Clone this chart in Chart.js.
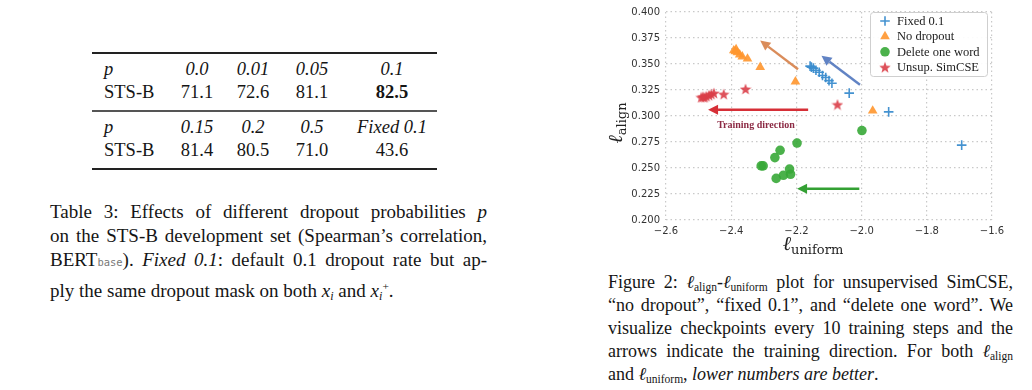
<!DOCTYPE html>
<html>
<head>
<meta charset="utf-8">
<script src="https://cdn.jsdelivr.net/npm/chart.js@4"></script>
<style>
  body { margin: 0; background: #fff; width: 1032px; height: 390px; position: relative; overflow: hidden;
         font-family: "Liberation Serif", serif; color: #151515; }
  .rule { position: absolute; left: 92px; width: 345px; background: #222; }
  .row { position: absolute; left: 92px; width: 345px; height: 23px; line-height: 23px; font-size: 18.5px; }
  .row span { position: absolute; top: 0; text-align: center; }
  .cap { position: absolute; }
  .cap div { white-space: nowrap; text-align: justify; text-align-last: justify; }
  .cap div.last { text-align-last: left; }
  #tcap { left: 50px; top: 200px; width: 437px; font-size: 19px; line-height: 24px; }
  #fcap { left: 608px; top: 271px; width: 405px; font-size: 18px; line-height: 23px; }
  .cap sub { font-size: 64%; vertical-align: -3px; line-height: 0; }
  .cap .tt { font-family: "DejaVu Sans Mono", monospace; font-size: 55%; color: #777; }
  .ell { display: inline-block; }
  #chartBox { position: absolute; left: 600px; top: 0; width: 410px; height: 262px; }
</style>
</head>
<body>

<div class="rule" style="top:52px;height:2px"></div>
<div class="rule" style="top:110px;height:1.5px;background:#555"></div>
<div class="rule" style="top:168px;height:2px"></div>
<div id="tbl"></div>

<div class="cap" id="tcap">
  <div>Table 3: Effects of different dropout probabilities <i>p</i></div>
  <div>on the STS-B development set (Spearman’s correlation,</div>
  <div><span class="ell">BERT<span class="tt">base</span>).</span> <i>Fixed 0.1</i>: default 0.1 dropout rate but ap-</div>
  <div class="last">ply the same dropout mask on both <span class="ell"><i>x<sub>i</sub></i></span> and <span class="ell"><i>x<sub>i</sub></i><sup style="font-size:60%">+</sup>.</span></div>
</div>

<div class="cap" id="fcap">
  <div>Figure 2: <span class="ell"><i>ℓ</i><sub>align</sub>-<i>ℓ</i><sub>uniform</sub></span> plot for unsupervised SimCSE,</div>
  <div>“no dropout”, “fixed 0.1”, and “delete one word”. We</div>
  <div>visualize checkpoints every 10 training steps and the</div>
  <div>arrows indicate the training direction. For both <span class="ell"><i>ℓ</i><sub>align</sub></span></div>
  <div class="last">and <span class="ell"><i>ℓ</i><sub>uniform</sub>,</span> <i>lower numbers are better</i>.</div>
</div>

<div id="chartBox"><canvas id="plot"></canvas></div>

<script>
// table 3 values
const pRow1 = ["0.0", "0.01", "0.05", "0.1"];
const stsRow1 = ["71.1", "72.6", "81.1", "82.5"];
const pRow2 = ["0.15", "0.2", "0.5", "Fixed 0.1"];
const stsRow2 = ["81.4", "80.5", "71.0", "43.6"];

// figure 2 checkpoints (uniform, align)
const fixedX = [-1.693, -1.917, -2.038, -2.091, -2.100, -2.110, -2.120, -2.130, -2.140, -2.148, -2.154, -2.158];
const fixedY = [0.272, 0.304, 0.322, 0.3315, 0.334, 0.337, 0.339, 0.342, 0.344, 0.346, 0.347, 0.348];
const noDropX = [-1.966, -2.203, -2.311, -2.350, -2.366, -2.374, -2.381, -2.387, -2.392, -2.385];
const noDropY = [0.305, 0.333, 0.347, 0.355, 0.357, 0.359, 0.361, 0.362, 0.363, 0.364];
const delX = [-1.999, -2.198, -2.250, -2.266, -2.302, -2.308, -2.221, -2.218, -2.240, -2.262];
const delY = [0.286, 0.274, 0.267, 0.260, 0.252, 0.252, 0.249, 0.244, 0.243, 0.240];
const simX = [-2.074, -2.356, -2.423, -2.453, -2.461, -2.468, -2.476, -2.482, -2.487, -2.492];
const simY = [0.311, 0.326, 0.321, 0.322, 0.321, 0.320, 0.319, 0.318, 0.3185, 0.318];

const seriesNames = ["Fixed 0.1", "No dropout", "Delete one word", "Unsup. SimCSE"];

// training direction arrows: [fromX, fromY, toX, toY]
const arrowOrange = [-2.195, 0.345, -2.311, 0.3725];
const arrowBlue = [-2.005, 0.330, -2.123, 0.358];
const arrowRed = [-2.164, 0.306, -2.471, 0.306];
const arrowGreen = [-2.007, 0.230, -2.198, 0.230];
const noteText = "Training direction";
const notePos = [-2.324, 0.2905];

const xTickLabels = ["−2.6", "−2.4", "−2.2", "−2.0", "−1.8", "−1.6"];
const yTickLabels = ["0.200", "0.225", "0.250", "0.275", "0.300", "0.325", "0.350", "0.375", "0.400"];

// -----------------------------
// Table
// -----------------------------
const colLeft = [12, 73, 137, 185, 255];
const colW = [60, 64, 48, 70, 90];
function tableRow(top, first, cells, italic, boldLast) {
    let html = `<div class="row" style="top:${top}px">`;
    html += `<span style="left:${colLeft[0]}px;text-align:left">${first}</span>`;
    cells.forEach((c, i) => {
        let txt = c;
        if (italic) txt = `<i>${c}</i>`;
        if (boldLast && i === cells.length - 1) txt = `<b>${c}</b>`;
        html += `<span style="left:${colLeft[i + 1]}px;width:${colW[i + 1]}px">${txt}</span>`;
    });
    return html + "</div>";
}
document.getElementById("tbl").innerHTML =
    tableRow(58, "<i>p</i>", pRow1, true, false) +
    tableRow(81, "STS-B", stsRow1, false, true) +
    tableRow(116, "<i>p</i>", pRow2, true, false) +
    tableRow(139, "STS-B", stsRow2, false, false);

// -----------------------------
// Star marker
// -----------------------------
function makeStar(color, size) {
    const c = document.createElement("canvas");
    c.width = size; c.height = size;
    const g = c.getContext("2d");
    const r = size / 2, ri = r * 0.42;
    g.beginPath();
    for (let i = 0; i < 10; i++) {
        const a = -Math.PI / 2 + i * Math.PI / 5;
        const rr = i % 2 ? ri : r;
        g.lineTo(r + rr * Math.cos(a), r + rr * Math.sin(a) + 0.6);
    }
    g.closePath();
    g.fillStyle = color;
    g.fill();
    return c;
}
const starImg = makeStar("rgba(218,62,72,0.9)", 12);

const toPts = (xs, ys) => xs.map((x, i) => ({ x, y: ys[i] }));

// -----------------------------
// Extras: arrows, note, legend, axis titles
// -----------------------------
function drawArrow(ctx, chart, a, color) {
    const xs = chart.scales.x, ys = chart.scales.y;
    const x1 = xs.getPixelForValue(a[0]), y1 = ys.getPixelForValue(a[1]);
    const x2 = xs.getPixelForValue(a[2]), y2 = ys.getPixelForValue(a[3]);
    const ang = Math.atan2(y2 - y1, x2 - x1);
    const hl = 10, hw = 5;
    const bx = x2 - hl * Math.cos(ang), by = y2 - hl * Math.sin(ang);
    ctx.save();
    ctx.strokeStyle = color; ctx.fillStyle = color; ctx.lineWidth = 2.4;
    ctx.beginPath(); ctx.moveTo(x1, y1); ctx.lineTo(bx, by); ctx.stroke();
    ctx.beginPath();
    ctx.moveTo(x2, y2);
    ctx.lineTo(bx + hw * Math.sin(ang), by - hw * Math.cos(ang));
    ctx.lineTo(bx - hw * Math.sin(ang), by + hw * Math.cos(ang));
    ctx.closePath(); ctx.fill();
    ctx.restore();
}

function drawEll(ctx, sub) {
    ctx.font = "italic 20px 'DejaVu Serif', serif";
    const w1 = ctx.measureText("ℓ").width;
    ctx.font = "13px 'DejaVu Serif', serif";
    const w2 = ctx.measureText(sub).width;
    const x0 = -(w1 + w2) / 2;
    ctx.fillStyle = "#222";
    ctx.textBaseline = "alphabetic";
    ctx.textAlign = "left";
    ctx.font = "italic 20px 'DejaVu Serif', serif";
    ctx.fillText("ℓ", x0, 6);
    ctx.font = "13px 'DejaVu Serif', serif";
    ctx.fillText(sub, x0 + w1, 10);
}

const extras = {
    id: "extras",
    beforeDatasetsDraw(chart) {
        const ctx = chart.ctx;
        drawArrow(ctx, chart, arrowOrange, "rgba(214,128,72,0.9)");
        drawArrow(ctx, chart, arrowBlue, "rgba(80,118,190,0.9)");
        drawArrow(ctx, chart, arrowRed, "rgba(212,36,44,0.95)");
        drawArrow(ctx, chart, arrowGreen, "rgba(40,155,40,0.95)");
        ctx.save();
        ctx.font = "bold 10px 'Liberation Serif', serif";
        ctx.fillStyle = "#8c2a44";
        ctx.textAlign = "center"; ctx.textBaseline = "middle";
        ctx.fillText(noteText, chart.scales.x.getPixelForValue(notePos[0]), chart.scales.y.getPixelForValue(notePos[1]));
        ctx.restore();
    },
    afterDraw(chart) {
        const ctx = chart.ctx;
        // legend box
        ctx.save();
        const lx = 270, ly = 12, lw = 117, lh = 64;
        ctx.fillStyle = "rgba(255,255,255,0.92)";
        ctx.strokeStyle = "#cfcfcf"; ctx.lineWidth = 1;
        ctx.beginPath();
        ctx.roundRect(lx + 0.5, ly + 0.5, lw, lh, 3);
        ctx.fill(); ctx.stroke();
        chart.data.datasets.forEach((ds, i) => {
            const yy = 21 + i * 15.4;
            ctx.save();
            ctx.fillStyle = ds.backgroundColor;
            ctx.strokeStyle = ds.borderColor;
            ctx.lineWidth = ds.borderWidth;
            Chart.helpers.drawPoint(ctx, { pointStyle: ds.pointStyle, radius: ds.pointRadius, borderWidth: ds.borderWidth, rotation: 0 }, lx + 15, yy);
            ctx.restore();
            ctx.font = "12.5px 'Liberation Serif', serif";
            ctx.fillStyle = "#222";
            ctx.textAlign = "left"; ctx.textBaseline = "middle";
            ctx.fillText(seriesNames[i], lx + 27, yy + 0.5);
        });
        ctx.restore();
        // axis titles
        ctx.save();
        ctx.translate(16, 123);
        ctx.rotate(-Math.PI / 2);
        drawEll(ctx, "align");
        ctx.restore();
        ctx.save();
        ctx.translate(213, 244);
        drawEll(ctx, "uniform");
        ctx.restore();
    }
};

const gridOpts = { color: "#c9c9c9", lineWidth: 1.2, drawTicks: false };
const tickFont = { family: "'DejaVu Sans', sans-serif", size: 10 };

new Chart(document.getElementById("plot"), {
    type: "scatter",
    data: {
        datasets: [
            { label: seriesNames[0], data: toPts(fixedX, fixedY), pointStyle: "cross", pointRadius: 4.8,
              borderWidth: 1.6, borderColor: "rgba(58,140,205,0.95)", backgroundColor: "rgba(58,140,205,0.95)" },
            { label: seriesNames[1], data: toPts(noDropX, noDropY), pointStyle: "triangle", pointRadius: 5.6,
              borderWidth: 0, borderColor: "rgba(255,150,45,0.9)", backgroundColor: "rgba(255,150,45,0.9)" },
            { label: seriesNames[2], data: toPts(delX, delY), pointStyle: "circle", pointRadius: 4.8,
              borderWidth: 0, borderColor: "rgba(55,168,55,0.9)", backgroundColor: "rgba(55,168,55,0.9)" },
            { label: seriesNames[3], data: toPts(simX, simY), pointStyle: starImg, pointRadius: 5,
              borderWidth: 0, borderColor: "rgba(218,62,72,0.9)", backgroundColor: "rgba(218,62,72,0.9)" }
        ]
    },
    options: {
        responsive: true,
        maintainAspectRatio: false,
        animation: false,
        layout: { padding: { left: 0, right: 18, top: 7, bottom: 0 } },
        plugins: { legend: { display: false }, tooltip: { enabled: false } },
        scales: {
            x: {
                type: "linear", min: -2.6, max: -1.6,
                ticks: { stepSize: 0.2, padding: 5, color: "#333", font: tickFont,
                         callback: (v, i) => xTickLabels[i] ?? v },
                grid: gridOpts,
                border: { display: false, dash: [1.5, 3] },
                afterFit: s => { s.height = 42; }
            },
            y: {
                min: 0.2, max: 0.4,
                ticks: { stepSize: 0.025, padding: 6, color: "#333", font: tickFont,
                         callback: (v, i) => yTickLabels[i] ?? v },
                grid: gridOpts,
                border: { display: false, dash: [1.5, 3] },
                afterFit: s => { s.width = 66; }
            }
        }
    },
    plugins: [extras]
});
</script>
</body>
</html>
